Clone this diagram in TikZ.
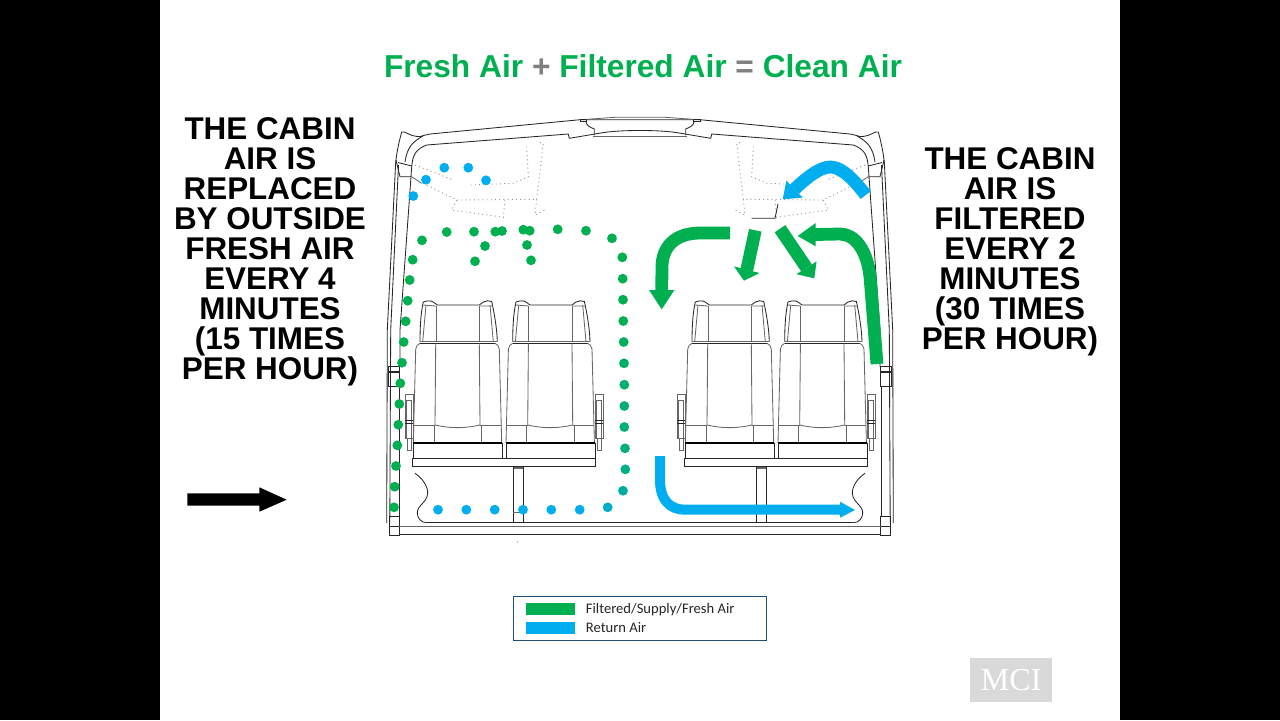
\documentclass[tikz,border=0pt]{standalone}
\usepackage{fontspec}
\setmainfont{Liberation Sans}
\newfontfamily\legendfont{Carlito}
\newfontfamily\logofont{Liberation Serif}
\definecolor{airgreen}{HTML}{00AF50}
\definecolor{airblue}{HTML}{00AEEF}
\definecolor{titlegray}{HTML}{7F7F7F}
\definecolor{legendedge}{HTML}{1F4E79}
\definecolor{logogray}{HTML}{D9D9D9}
\newcommand{\seatunit}[1]{%
 \begin{scope}[shift={(#1,0)}]
  % headrest
  \draw[thinline] (420,341.7) .. controls (420,325) and (421,312) .. (423.3,302) .. controls (427,300.5) and (431,300.5) .. (433.3,302) -- (437.3,305) -- (479.3,305) -- (483.3,302) .. controls (486,300.5) and (489,300.5) .. (491.7,301.5) .. controls (494,312) and (497,328) .. (497.3,341.7);
  \draw[softline] (423.3,305) -- (436,306) (479.3,306) -- (492.7,306);
  \draw[softline] (426,305) -- (422.7,341.7) (490,305) -- (493.3,341.7);
  \draw[softline] (436,306) -- (436,341.7) (479.3,306) -- (479.3,341.7);
  \draw[softline] (420,341.7) -- (497.3,341.7);
  % back
  \draw[thinline] (420,343.3) -- (495,343.3);
  \draw[softline] (413.3,443) -- (415.7,349) .. controls (416,346) and (418,344) .. (420,343.3);
  \draw[softline] (495,343.3) .. controls (497,344) and (499,346) .. (499.3,349) -- (501.7,443);
  \draw[softline] (435.7,343.3) -- (435,425) .. controls (450,428.5) and (465,428.5) .. (480,425) -- (479.3,343.3);
  \draw[softline] (413.3,425) -- (435,425) (480,425) -- (501.7,425);
  \draw[softline] (434,425) -- (434,442.7);
  \draw[softline] (481.3,425) -- (481.3,442.7);
  % cushion
  \draw[line width=.8pt,black] (413.3,442.7) -- (502.3,442.7);
  \draw[thinline] (413.3,442.7) -- (413.3,458.3) (502.3,442.7) -- (502.3,458.3);
 \end{scope}}
\newcommand{\armrest}[1]{%
 \begin{scope}[shift={(#1,0)}]
  \draw[softline] (405,394.3) rectangle (413.3,438);
  \draw[softline] (406.7,400) rectangle (411.7,438);
  \draw[thinline] (405,420) -- (413.3,420) (405,423.5) -- (413.3,423.5);
  \draw[softline] (407.7,438) rectangle (411,450);
 \end{scope}}
\newcommand{\bench}[1]{%
 \begin{scope}[shift={(#1,0)}]
  \draw[thinline] (412.3,458.3) -- (596,458.3);
  \draw[thinline] (412.7,458.3) rectangle (595,466.7);
 \end{scope}}
\newcommand{\benchpost}[1]{%
 \begin{scope}[shift={(#1,0)}]
  \draw[softline,line width=.9pt] (513.6,467.6) -- (523.4,467.6);
  \draw[thinline] (513.3,466.7) -- (513.3,522.7) (523.7,466.7) -- (523.7,522.7);
 \end{scope}}
\tikzset{
 thinline/.style={draw=black!85,line width=.42pt},
 softline/.style={draw=black!60,line width=.42pt},
 ductline/.style={draw=black!42,line width=.45pt,dash pattern=on .5pt off 1.6pt},
 greenband/.style={draw=airgreen,line width=6.4pt},
 blueband/.style={draw=airblue,line width=5pt},
 sidetext/.style={font=\fontsize{15.7}{15}\selectfont\bfseries,align=center,inner sep=0pt,text=black},
}
\begin{document}
\begin{tikzpicture}[x=.5pt,y=-.5pt]
\useasboundingbox (0,0) rectangle (1280,720);
\fill[white] (0,0) rectangle (1280,720);
\fill[black] (0,0) rectangle (160,720);
\fill[black] (1120,0) rectangle (1280,720);
\node[inner sep=0pt,font=\fontsize{15.85}{18}\selectfont\bfseries,text=airgreen] (title) at (643,66) {Fresh Air \textcolor{titlegray}{+} Filtered Air \textcolor{titlegray}{=} Clean Air};
\node[sidetext] (lefttext) at (270,252) {THE CABIN\\AIR IS\\REPLACED\\BY OUTSIDE\\FRESH AIR\\EVERY 4\\MINUTES\\(15 TIMES\\PER HOUR)};
\node[sidetext] (righttext) at (1010,252) {THE CABIN\\AIR IS\\FILTERED\\EVERY 2\\MINUTES\\(30 TIMES\\PER HOUR)};
% shell, both halves
\foreach \s/\o in {1/0,-1/1280}{
 \begin{scope}[shift={(\o,0)},xscale=\s]
  \draw[thinline] (386.7,523) -- (387.3,330) -- (395.7,162) .. controls (397,150) and (400,138) .. (401.7,132) .. controls (404,130) and (410,137) .. (420,136.5) .. controls (424,135.5) and (427,134.5) .. (430,134) -- (580,119.7) -- (640,119.7);
  \draw[thinline] (389.8,523) -- (390.7,330) -- (398.5,165);
  \draw[thinline] (405,162) .. controls (407,148) and (412,142) .. (423,136);
  \draw[thinline] (400,366.7) -- (400,330) -- (411.7,167) .. controls (412.5,155) and (416,149) .. (426.7,145) -- (568.3,134);
  \draw[thinline] (399,386.7) -- (399,516.7);
  \draw[thinline] (388.3,366.7) rectangle (399.3,386.7);
  \draw[thinline,line width=.6pt] (388.3,372) -- (399.3,372);
  \draw[thinline] (389.3,516.7) rectangle (399.3,535);
  \draw[thinline] (389.3,526) -- (399.3,526);
  \draw[thinline] (398,162.5) -- (411.7,166) (400,176.7) -- (411.7,176.7);
  \draw[thinline] (396,160) -- (400,176.7);
  \draw[softline] (411.7,176.7) -- (421.7,183.3);
  % roof joint
  \draw[thinline] (580,119.5) rectangle (586.7,121.7);
  \draw[softline] (586.7,119.3) -- (615,117.3) -- (640,117.3);
  \draw[thinline] (586,121.7) .. controls (586.5,126) and (590,127) .. (594.3,129) -- (594.3,135.3);
  \draw[thinline] (568.3,134) -- (569.3,138.3) -- (593.3,134.3) .. controls (610,131) and (625,130.5) .. (640,130.5);
  \draw[softline] (593.3,136.7) -- (640,136.7);
  % ducts
  \draw[ductline] (415,165) -- (453.3,180);
  \draw[ductline] (423.3,183.3) -- (456.7,200) -- (536.7,199.3);
  \draw[ductline] (456.7,200) -- (451.7,210) -- (503.3,217.3) -- (505,200);
  \draw[ductline] (536.7,199.3) -- (543.3,143.3) -- (536.7,141.7);
  \draw[ductline] (536.7,199.3) -- (535,215) -- (545,210);
  \draw[ductline] (526.7,146.7) -- (528.3,176.7) -- (513.3,183.3) -- (470,185);
  % bottom curve
  \draw[thinline] (415,473.3) .. controls (422,478) and (428,486) .. (427.7,493.3) .. controls (427,503) and (417,505) .. (417.3,513.3) .. controls (417.5,518) and (421,522.7) .. (426.7,522.7);
 \end{scope}}
\draw[thinline] (426.7,522.7) -- (853.3,522.7);
\draw[softline,line width=.8pt] (399,526.5) -- (881,526.5);
\draw[thinline] (399,534.3) -- (881,534.3);
\draw[thinline] (751.7,218.3) -- (775,218.3) -- (778,204);
\fill[black!60] (517.7,542) circle[radius=.6];
% seats
\foreach \d in {0,92.7,272,364.7}{\seatunit{\d}}
\foreach \d in {0,190,272,462}{\armrest{\d}}
\foreach \d in {0,272}{\bench{\d}}
\foreach \d in {0,243.2}{\benchpost{\d}}
\draw[softline] (513.3,512.7) -- (520,512.7);
% blue dots
\foreach \p in {(444.3,167.7),(468.3,167.7),(426,179.7),(486,180.3),(413.3,196),(438,509.7),(466.3,509.7),(494.7,509.7),(523,509.7),(551.3,509.7),(579.7,509.7)}{\fill[airblue] \p circle[radius=4.9];}
% green dots
\foreach \p in {(446.7,232),(474,231.7),(495.3,231.7),(502,231),(523.3,229.7),(529.7,230.7),(557.7,229.3),(586,230.7),(612,238.3),(622.3,257.3),(622.7,278.7),(623,299.7),(623.3,321),(422,240.3),(412.7,259.7),(409.7,280),(407.7,300.7),(405.7,321.3),(485,246),(475,261.3),(527,245),(531,260.3),(403.7,342),(402,362.7),(400.3,383.3),(399.3,404),(398.3,424.7),(397.3,445.3),(396,466),(394.7,486.7),(394,507.3)}{\fill[airgreen] \p circle[radius=4.9];}
% return-side colour fade
\foreach \p/\m in {(623.7,342)/92,(624,363.3)/88,(624.3,384.7)/84,(624.3,406)/80,(624.3,427)/76,(625,448.3)/72,(625.3,469.3)/66,(623,490.7)/50,(607.7,507.3)/25}{\fill[airgreen!\m!airblue] \p circle[radius=4.9];}
% green arrows
\draw[greenband] (730,233) -- (700,233) .. controls (675,233) and (662,247) .. (662,267) -- (661.7,291);
\fill[airgreen] (649,290) -- (674.4,290) -- (661.7,309.3) -- cycle;
\draw[greenband] (755.3,230.3) -- (746.8,270);
\fill[airgreen] (734,266.4) -- (759.6,273) -- (744,280.7) -- cycle;
\draw[greenband] (780,228.7) -- (806.5,267.8);
\fill[airgreen] (796.4,274.2) -- (816.6,261.4) -- (814.3,278.3) -- cycle;
\draw[greenband] (877,364) -- (870,276.7) .. controls (867,250) and (855,234) .. (840,234) -- (815,234.5);
\fill[airgreen] (815.7,223) -- (815.7,246.3) -- (797.7,236) -- cycle;
% blue arrows
\draw[blueband,line width=6.4pt] (865.7,195) .. controls (848,172) and (838,167) .. (830,167) .. controls (820,167) and (806,178) .. (794.5,189.2);
\fill[airblue] (786.4,180.6) -- (802.6,197.6) -- (782.7,199.3) -- cycle;
\draw[blueband] (660,456) -- (660,480) .. controls (660,500) and (670,509.7) .. (685,509.7) -- (841,509.7);
\fill[airblue] (840,501.7) -- (840,517.7) -- (855,510) -- cycle;
% black arrow
\fill[black] (187.3,493.3) -- (259.3,493.3) -- (259.3,487.3) -- (286.7,499.7) -- (259.3,511.7) -- (259.3,505.7) -- (187.3,505.7) -- cycle;
% legend
\node[draw=legendedge,line width=.5pt,fill=white,minimum width=126.7pt,minimum height=22.3pt,inner sep=0pt] (legend) at (640,618.3) {};
\fill[airgreen] (526,602.7) rectangle (575,614.7);
\fill[airblue] (526,621.7) rectangle (575,634);
\node[anchor=west,inner sep=0pt,font=\legendfont\fontsize{7.3}{8}\selectfont,text=black!85] (legendgreen) at (585.5,610) {Filtered/Supply/Fresh Air};
\node[anchor=west,inner sep=0pt,font=\legendfont\fontsize{7.3}{8}\selectfont,text=black!85] (legendblue) at (585.5,628) {Return Air};
% logo
\node[fill=logogray,minimum width=41.2pt,minimum height=21.7pt,inner sep=0pt,text=white,font=\logofont\fontsize{16}{16}\selectfont] (logo) at (1011.2,680) {MCI};
\end{tikzpicture}
\end{document}
